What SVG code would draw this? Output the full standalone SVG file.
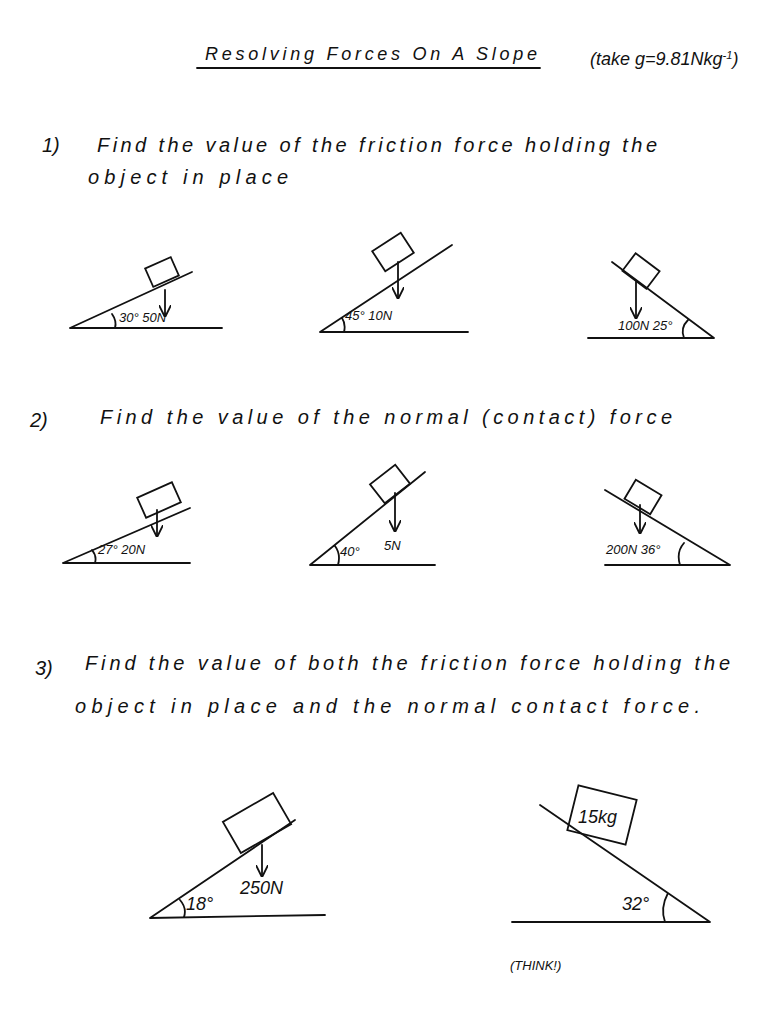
<svg xmlns="http://www.w3.org/2000/svg" width="768" height="1024" viewBox="0 0 768 1024">
<style>
.l{stroke:#111;stroke-width:1.8;fill:none;stroke-linecap:round}
.t{font-family:"Liberation Sans",Arial,sans-serif;fill:#111;font-style:italic}
.s{font-size:13px}.m{font-size:18px}.b{font-size:20px}
</style>
<defs><marker id="a" viewBox="0 0 10 10" refX="9" refY="5" markerWidth="7" markerHeight="7" orient="auto"><path d="M0,0L10,5L0,10" fill="none" stroke="#111" stroke-width="1.5"/></marker></defs>
<rect width="768" height="1024" fill="#fff"/>
<text class="t m" x="205" y="60" textLength="332">Resolving Forces On A Slope</text>
<line class="l" x1="197" y1="68" x2="540" y2="68"/>
<text class="t m" x="590" y="65">(take g=9.81Nkg<tspan font-size="11" dy="-6">-1</tspan><tspan dy="6">)</tspan></text>
<text class="t b" x="42" y="152">1)</text>
<text class="t b" x="97" y="152" textLength="560">Find the value of the friction force holding the</text>
<text class="t b" x="88" y="184" textLength="200">object in place</text>
<text class="t b" x="30" y="427">2)</text>
<text class="t b" x="100" y="424" textLength="572">Find the value of the normal (contact) force</text>
<text class="t b" x="35" y="675">3)</text>
<text class="t b" x="85" y="670" textLength="645">Find the value of both the friction force holding the</text>
<text class="t b" x="75" y="713" textLength="625">object in place and the normal contact force.</text>
<g id="d1"><path class="l" d="M70,328H222M70,328L192,272M112,314Q117,321 115,328"/>
<rect class="l" x="148" y="262" width="28" height="20" transform="rotate(-24 162 272)"/>
<line class="l" x1="165" y1="290" x2="165" y2="316" marker-end="url(#a)"/>
<text class="t s" x="119" y="322">30° 50N</text></g>
<g id="d2"><path class="l" d="M320,332H468M320,332L452,245M342,318Q346,324 344,332"/>
<rect class="l" x="376" y="240" width="34" height="24" transform="rotate(-33 393 252)"/>
<line class="l" x1="398" y1="262" x2="398" y2="298" marker-end="url(#a)"/>
<text class="t s" x="345" y="320">45° 10N</text></g>
<g id="d3"><path class="l" d="M588,338H714M612,262L714,338M688,320Q680,328 684,338"/>
<rect class="l" x="626" y="260" width="30" height="22" transform="rotate(37 641 271)"/>
<line class="l" x1="636" y1="282" x2="636" y2="318" marker-end="url(#a)"/>
<text class="t s" x="618" y="330">100N 25°</text></g>
<g id="d4"><path class="l" d="M63,563H190M63,563L190,508M92,550Q97,556 95,563"/>
<rect class="l" x="140" y="489" width="38" height="22" transform="rotate(-24 159 500)"/>
<line class="l" x1="157" y1="510" x2="157" y2="536" marker-end="url(#a)"/>
<text class="t s" x="98" y="554">27° 20N</text></g>
<g id="d5"><path class="l" d="M310,565H435M310,565L425,472M335,546Q341,554 338,565"/>
<rect class="l" x="374" y="472" width="32" height="24" transform="rotate(-38 390 484)"/>
<line class="l" x1="395" y1="493" x2="395" y2="531" marker-end="url(#a)"/>
<text class="t s" x="340" y="556">40°</text><text class="t s" x="384" y="550">5N</text></g>
<g id="d6"><path class="l" d="M605,565H730M605,490L730,565M684,543Q676,552 680,565"/>
<rect class="l" x="628" y="486" width="30" height="22" transform="rotate(31 643 497)"/>
<line class="l" x1="640" y1="505" x2="640" y2="533" marker-end="url(#a)"/>
<text class="t s" x="606" y="554">200N 36°</text></g>
<g id="d7"><path class="l" d="M150,918L325,915M150,918L295,820M180,900Q187,908 184,917"/>
<rect class="l" x="228" y="805" width="58" height="36" transform="rotate(-30 257 823)"/>
<line class="l" x1="262" y1="845" x2="262" y2="876" marker-end="url(#a)"/>
<text class="t m" x="186" y="910">18°</text><text class="t m" x="240" y="894">250N</text></g>
<g id="d8"><path class="l" d="M512,922H710M540,805L710,922M668,893Q660,908 665,922"/>
<rect class="l" x="572" y="792" width="60" height="46" transform="rotate(14 602 815)"/>
<text class="t m" x="578" y="823">15kg</text>
<text class="t m" x="622" y="910">32°</text></g>
<text class="t s" x="510" y="970">(THINK!)</text>
</svg>
